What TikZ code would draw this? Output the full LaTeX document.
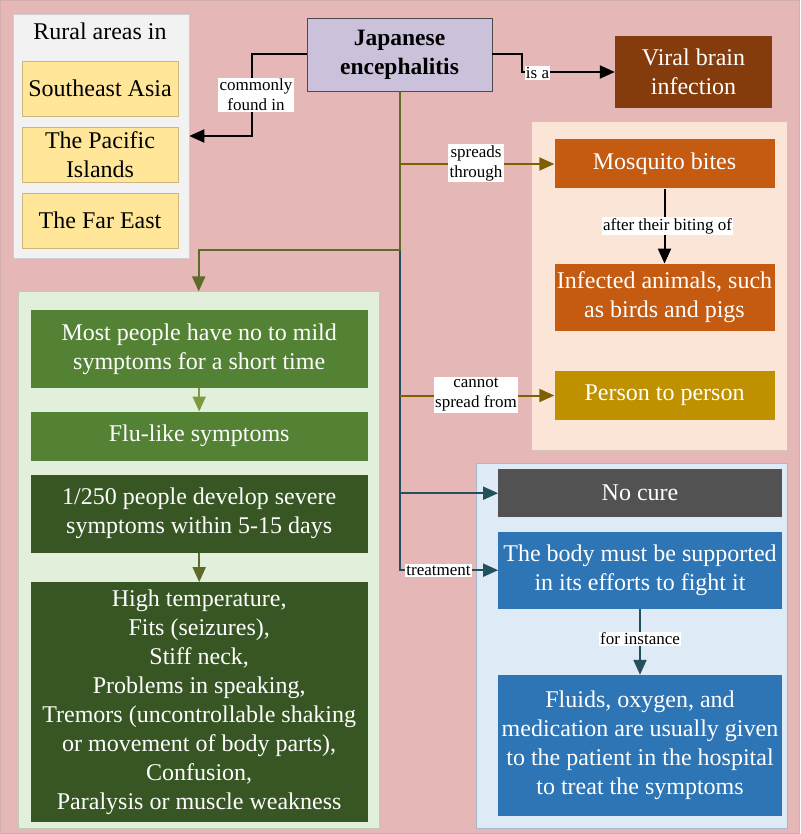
\documentclass[tikz,border=0pt]{standalone}
\usepackage{fontspec}
\setmainfont{Liberation Serif}
\usetikzlibrary{arrows.meta}
\definecolor{bgpink}{HTML}{E5B8B7}
\definecolor{jefill}{HTML}{CCC1DA}
\definecolor{viral}{HTML}{843C0C}
\definecolor{grayg}{HTML}{F2F2F2}
\definecolor{yellowb}{HTML}{FFE699}
\definecolor{yellowd}{HTML}{CDB77E}
\definecolor{peachg}{HTML}{FBE5D6}
\definecolor{orangeb}{HTML}{C55A11}
\definecolor{goldb}{HTML}{BF9000}
\definecolor{blueg}{HTML}{DEEBF7}
\definecolor{bluegd}{HTML}{C5D9EE}
\definecolor{darkgray}{HTML}{525252}
\definecolor{blueb}{HTML}{2E75B6}
\definecolor{greeng}{HTML}{E2EFDA}
\definecolor{greenb}{HTML}{548235}
\definecolor{greend}{HTML}{375623}
\definecolor{olive}{HTML}{5E6A2A}
\definecolor{olivelt}{HTML}{7F9A3E}
\definecolor{goldline}{HTML}{7F6000}
\definecolor{slate}{HTML}{24505E}
\begin{document}
\begin{tikzpicture}[x=1pt,y=-1pt,
  grp/.style={rectangle,inner sep=0pt,draw=#1!85!black,line width=0.6pt},
  boxn/.style={rectangle,inner sep=0pt,align=center,text=white,
    font=\fontsize{24}{29}\selectfont},
  lbl/.style={fill=white,inner sep=1.2pt,align=center,text=black,
    font=\fontsize{17}{20}\selectfont},
  conn/.style={line width=2pt,-{Triangle[length=15pt,width=13pt]}},
  plain/.style={line width=2pt}]
\useasboundingbox (0,0) rectangle (800,834);
\fill[bgpink] (0,0) rectangle (800,834);
\draw[bgpink!80!gray,line width=1pt] (0.5,0.5) rectangle (799.5,833.5);

% groups
\node[grp=grayg,fill=grayg,minimum width=176pt,minimum height=244pt] (gray) at (101,136) {};
\node[grp=peachg,fill=peachg,minimum width=256pt,minimum height=329pt] (peach) at (659,285.5) {};
\node[grp=bluegd,fill=blueg,minimum width=310.6pt,minimum height=365pt] (blue) at (632,645.8) {};
\node[grp=greeng,fill=greeng,minimum width=360.7pt,minimum height=536.6pt] (green) at (198.7,560) {};

% left group
\node[font=\fontsize{24}{29}\selectfont] (rural) at (100,31) {Rural areas in};
\node[boxn,text=black,fill=yellowb,draw=yellowd,line width=0.8pt,minimum width=156pt,minimum height=55pt] (sea) at (100,88.5) {Southeast Asia};
\node[boxn,text=black,fill=yellowb,draw=yellowd,line width=0.8pt,minimum width=156pt,minimum height=55pt] (pac) at (100,154.5) {The Pacific\\Islands};
\node[boxn,text=black,fill=yellowb,draw=yellowd,line width=0.8pt,minimum width=156pt,minimum height=55pt] (far) at (100,220.5) {The Far East};

% top
\node[boxn,text=black,fill=jefill,draw=black!70,line width=0.8pt,minimum width=185pt,minimum height=73pt,font=\bfseries\fontsize{23.5}{29}\selectfont] (je) at (399.5,54.5) {Japanese\\encephalitis};
\node[boxn,fill=viral,minimum width=157pt,minimum height=72pt] (viral) at (693.5,72) {Viral brain\\infection};

% peach group
\node[boxn,fill=orangeb,minimum width=220pt,minimum height=49pt] (mosq) at (664.5,164) {Mosquito bites};
\node[boxn,fill=orangeb,minimum width=220pt,minimum height=67pt] (inf) at (664.5,297.3) {Infected animals, such\\as birds and pigs};
\node[boxn,fill=goldb,minimum width=220pt,minimum height=49pt] (person) at (664.5,395.5) {Person to person};

% blue group
\node[boxn,fill=darkgray,minimum width=283.4pt,minimum height=48.3pt] (nocure) at (640,493.2) {No cure};
\node[boxn,fill=blueb,minimum width=283.4pt,minimum height=77pt] (body) at (640,570.2) {The body must be supported\\in its efforts to fight it};
\node[boxn,fill=blueb,minimum width=283.4pt,minimum height=141pt] (fluids) at (640,745.5) {Fluids, oxygen, and\\medication are usually given\\to the patient in the hospital\\to treat the symptoms};

% green group
\node[boxn,fill=greenb,minimum width=337pt,minimum height=77.7pt] (b1) at (199.2,348.8) {Most people have no to mild\\symptoms for a short time};
\node[boxn,fill=greenb,minimum width=337pt,minimum height=49pt] (b2) at (199.2,436.2) {Flu-like symptoms};
\node[boxn,fill=greend,minimum width=337pt,minimum height=78pt] (b3) at (199.2,513.7) {1/250 people develop severe\\symptoms within 5-15 days};
\node[boxn,fill=greend,minimum width=337pt,minimum height=239.4pt] (b4) at (199.2,702) {High temperature,\\Fits (seizures),\\Stiff neck,\\Problems in speaking,\\Tremors (uncontrollable shaking\\or movement of body parts),\\Confusion,\\Paralysis or muscle weakness};

% connectors
\coordinate (jl) at (252,54.5);
\coordinate (jr) at (522,54.5);
\coordinate (tg) at (399.5,250);
\draw[conn,black] (je.west) -- (jl) |- (gray.east);
\draw[conn,black] (je.east) -- (jr) |- (viral.west);
\draw[conn,slate] (je.south) |- (body.west);
\draw[conn,slate] (je.south |- nocure.west) -- (nocure.west);
\draw[conn,olive] (je.south) -- (tg) -| (green.north);
\draw[conn,goldline] (je.south |- mosq.west) -- (mosq.west);
\draw[conn,goldline] (je.south |- person.west) -- (person.west);
\draw[conn,black] (mosq.south) -- (inf.north);
\draw[conn,slate] (body.south) -- (fluids.north);
\draw[conn,olivelt] (b1.south) -- (b2.north);
\draw[conn,olive] (b3.south) -- (b4.north);

% labels
\node[lbl] (lcf) at (256,95) {commonly\\found in};
\node[lbl] (lisa) at (537.5,73) {is a};
\node[lbl] (lsp) at (476,163) {spreads\\through};
\node[lbl] (lcs) at (476,395) {cannot\\spread from};
\node[lbl] (ltr) at (438.5,570.5) {treatment};
\node[lbl] (lab) at (667.5,226) {after their biting of};
\node[lbl] (lfi) at (640,639) {for instance};
\end{tikzpicture}
\end{document}
